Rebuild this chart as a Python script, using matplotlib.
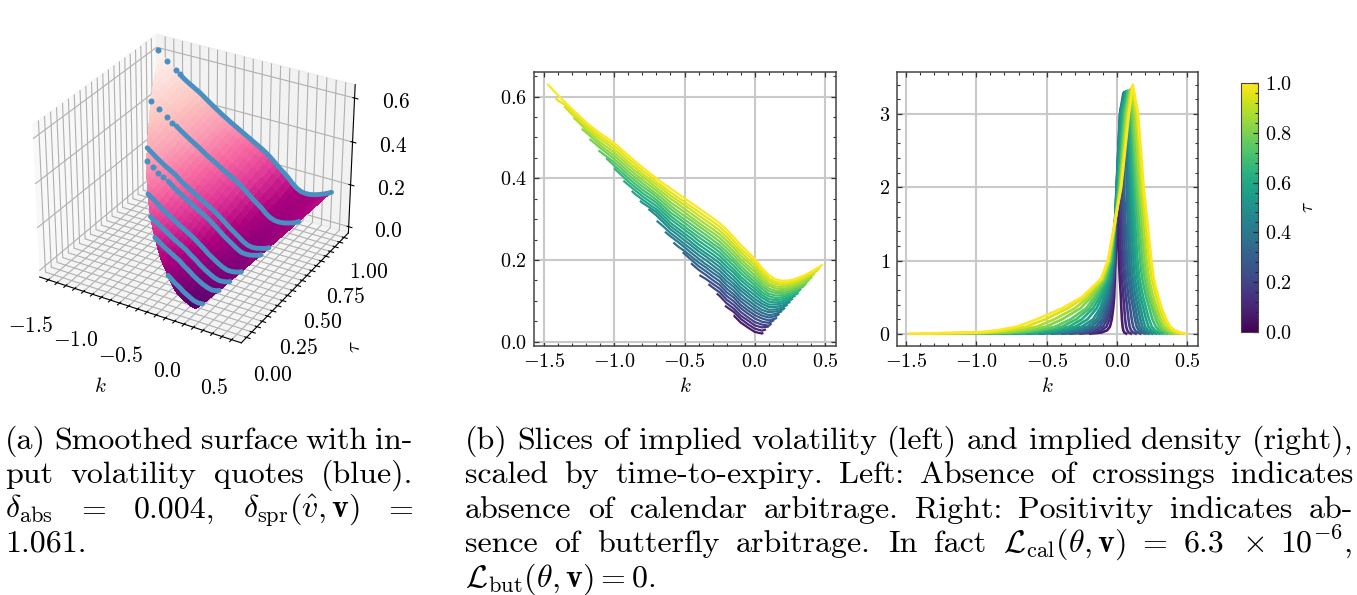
import numpy as np
import matplotlib
matplotlib.use('Agg')
from matplotlib import pyplot as plt
from matplotlib.cm import ScalarMappable
from matplotlib.colors import Normalize
from matplotlib.ticker import MultipleLocator

plt.rcParams['font.family'] = ['cmr10', 'DejaVu Sans']
plt.rcParams['mathtext.fontset'] = 'cm'
plt.rcParams['axes.formatter.use_mathtext'] = True
plt.rcParams['axes.unicode_minus'] = True

W, H = 1357, 595

# implied vol slices, bottom slice first
vol_tau = [0.07, 0.11, 0.15, 0.20, 0.24, 0.28, 0.32, 0.37, 0.41, 0.45, 0.49, 0.53,
           0.58, 0.62, 0.66, 0.70, 0.75, 0.79, 0.83, 0.87, 0.92, 0.96, 1.0]
# where the same slices sit on the tau axis of the surface plot
surface_tau = [0.011, 0.021, 0.034, 0.050, 0.071, 0.095, 0.121, 0.154, 0.187, 0.224, 0.263, 0.306,
               0.352, 0.401, 0.461, 0.515, 0.569, 0.630, 0.690, 0.755, 0.830, 0.900, 0.960]
vol_k_lo = [-0.152, -0.212, -0.271, -0.330, -0.394, -0.454, -0.513, -0.579, -0.639, -0.698, -0.757, -0.817,
            -0.876, -0.935, -1.002, -1.059, -1.113, -1.177, -1.232, -1.291, -1.358, -1.417, -1.476]
vol_v_lo = [0.064, 0.088, 0.118, 0.141, 0.163, 0.192, 0.219, 0.243, 0.269, 0.296, 0.325, 0.345,
            0.369, 0.394, 0.424, 0.449, 0.468, 0.496, 0.521, 0.549, 0.576, 0.596, 0.631]
vol_k_hi = [0.061, 0.080, 0.099, 0.119, 0.138, 0.157, 0.176, 0.195, 0.215, 0.234, 0.253, 0.272,
            0.291, 0.311, 0.330, 0.349, 0.368, 0.387, 0.407, 0.426, 0.445, 0.464, 0.483]
vol_v_hi = [0.022, 0.030, 0.037, 0.045, 0.053, 0.060, 0.068, 0.075, 0.083, 0.091, 0.098, 0.106,
            0.113, 0.121, 0.129, 0.136, 0.144, 0.151, 0.159, 0.167, 0.174, 0.182, 0.189]

# values at each k, from the lowest slice that reaches that k up to the top slice
vol_k = [-1.4, -1.35, -1.3, -1.25, -1.2, -1.15, -1.1, -1.05, -1.0, -0.95, -0.9, -0.85, -0.8, -0.75, -0.7, -0.65,
         -0.6, -0.55, -0.5, -0.45, -0.4, -0.35, -0.3, -0.25, -0.2, -0.15, -0.1,
         -0.05, 0.0, 0.05, 0.1, 0.15, 0.2, 0.25, 0.3, 0.35, 0.4, 0.45]
vol_cols = [
    [.590, .603],
    [.574, .580, .586],
    [.556, .563, .569],
    [.536, .541, .547, .553],
    [.512, .518, .525, .531, .537],
    [.489, .497, .504, .511, .517, .523],
    [.465, .474, .481, .488, .496, .503, .510],
    [.447, .452, .461, .468, .476, .484, .491, .498],
    [.424, .431, .439, .447, .455, .463, .471, .479, .486],
    [.408, .416, .424, .432, .440, .448, .456, .464, .471],
    [.384, .392, .400, .408, .416, .424, .432, .440, .448, .456],
    [.361, .370, .378, .386, .394, .402, .410, .418, .426, .434, .441],
    [.340, .348, .356, .364, .372, .380, .388, .396, .404, .411, .419, .427],
    [.323, .329, .336, .344, .352, .360, .368, .375, .383, .391, .398, .406, .413],
    [.309, .317, .324, .332, .340, .347, .355, .362, .370, .377, .385, .392, .400],
    [.282, .292, .300, .308, .316, .324, .332, .340, .348, .356, .364, .372, .379, .387],
    [.258, .266, .275, .283, .291, .300, .308, .316, .325, .333, .341, .350, .358, .366, .375],
    [.234, .245, .253, .262, .270, .278, .287, .295, .304, .312, .320, .329, .338, .346, .354, .363],
    [.215, .222, .231, .239, .248, .257, .265, .274, .282, .291, .299, .308, .317, .325, .334, .342, .351],
    [.191, .200, .208, .217, .226, .235, .243, .252, .261, .269, .278, .287, .296, .304, .313, .322, .330, .339],
    [.176, .185, .194, .203, .212, .221, .229, .238, .247, .256, .265, .274, .283, .291, .300, .309, .318, .327],
    [.154, .164, .173, .182, .190, .200, .209, .217, .226, .235, .244, .253, .262, .271, .279, .288, .297, .306,
     .315],
    [.133, .142, .151, .160, .169, .178, .187, .196, .205, .214, .223, .232, .240, .249, .258, .267, .276, .285,
     .294, .303],
    [.112, .121, .130, .139, .148, .157, .165, .174, .183, .192, .201, .210, .219, .228, .236, .245, .254, .263,
     .272, .281, .290],
    [.085, .094, .103, .112, .121, .130, .139, .148, .157, .166, .175, .184, .193, .202, .211, .220, .229, .238,
     .247, .256, .265, .274],
    [.064, .073, .081, .090, .099, .108, .116, .125, .134, .142, .151, .160, .169, .177, .186, .195, .203, .212,
     .221, .230, .238, .247, .256],
    [.047, .056, .064, .073, .082, .090, .099, .107, .116, .125, .133, .142, .151, .159, .168, .177, .185, .194,
     .202, .211, .220, .228, .237],
    [.035, .043, .052, .060, .069, .077, .085, .094, .102, .111, .119, .127, .136, .144, .153, .161, .169, .178,
     .186, .195, .203, .212, .220],
    [.024, .032, .040, .048, .057, .065, .073, .081, .089, .097, .105, .114, .122, .130, .138, .146, .154, .162,
     .171, .179, .187, .195, .203],
    [.020, .027, .035, .042, .049, .057, .064, .071, .078, .086, .093, .100, .108, .115, .122, .130, .137, .144,
     .151, .159, .166, .173, .181],
    [.039, .046, .052, .059, .065, .072, .078, .085, .091, .098, .104, .111, .117, .124, .130, .137, .143, .150,
     .156, .163],
    [.057, .063, .068, .074, .079, .085, .091, .096, .102, .107, .113, .119, .124, .130, .135, .141, .146, .152],
    [.079, .084, .089, .094, .099, .104, .109, .114, .119, .124, .129, .134, .139, .144, .149],
    [.097, .101, .106, .110, .115, .119, .124, .128, .132, .137, .141, .146, .150],
    [.117, .121, .126, .130, .134, .138, .142, .147, .151, .155],
    [.137, .141, .145, .150, .154, .158, .162],
    [.156, .160, .164, .167, .171],
    [.176, .181],
]

# input quotes on the surface
quote_rows = [22, 18, 14, 13, 10, 8, 6, 2]
quote_dense_from = [-1.2, -0.97, -1.5, -0.71, -1.5, -1.5, -1.5, -1.5]
quote_sparse_k = [-1.476, -1.369, -1.274, -1.227, -1.232, -1.145, -1.058, -0.993, -0.935, -0.87, -0.807, -0.754]
quote_sparse_v = [0.631, 0.592, 0.560, 0.545, 0.521, 0.495, 0.469, 0.449, 0.394, 0.376, 0.358, 0.345]
quote_sparse_tau = [0.96, 0.96, 0.96, 0.96, 0.69, 0.69, 0.69, 0.69, 0.401, 0.401, 0.401, 0.401]

# implied density slices: k where each slice crosses a density level
dens_tau = [0.07, 0.13, 0.19, 0.25, 0.31, 0.37, 0.43, 0.50, 0.56, 0.62, 0.69, 0.75, 0.81, 0.87, 0.94, 1.0]
dens_levels = [0.005, 0.02, 0.05, 0.1, 0.2, 0.35, 0.5, 0.75, 1.0, 2.0, 3.0]
dens_left = [
    [-.19, -.26, -.33, -.39, -.46, -.55, -.64, -.74, -.83, -.92, -1.02, -1.11, -1.20, -1.29, -1.39, -1.476],
    [-.11, -.16, -.21, -.25, -.30, -.35, -.40, -.46, -.52, -.58, -.66, -.72, -.79, -.85, -.93, -1.0],
    [-.07, -.11, -.15, -.18, -.22, -.26, -.31, -.36, -.41, -.47, -.53, -.58, -.64, -.71, -.78, -.85],
    [-.05, -.075, -.10, -.125, -.15, -.18, -.21, -.25, -.295, -.34, -.39, -.44, -.505, -.57, -.645, -.71],
    [-.037, -.054, -.071, -.088, -.105, -.125, -.146, -.17, -.21, -.25, -.29, -.33, -.39, -.445, -.51, -.57],
    [-.027, -.039, -.051, -.063, -.075, -.089, -.104, -.12, -.145, -.17, -.195, -.22, -.26, -.30, -.35, -.39],
    [-.02, -.029, -.038, -.046, -.055, -.066, -.076, -.09, -.107, -.124, -.143, -.16, -.182, -.203, -.23, -.25],
    [-.015, -.02, -.024, -.029, -.034, -.039, -.044, -.05, -.058, -.067, -.077, -.085, -.093, -.10, -.108, -.115],
    [-.011, -.013, -.015, -.018, -.02, -.023, -.026, -.03, -.034, -.038, -.043, -.047, -.051, -.056, -.06, -.065],
    [.003, .008, .004, .0, -.002, -.003, -.003, -.001, .004, .008, .013, .017, .02, .023, .027, .03],
    [.003, .010, .016, .022, .024, .021, .022, .024, .032, .04, .05, .057, .064, .071, .079, .085],
]
dens_peak_k = [.003, .010, .016, .022, .03, .045, .05, .058, .064, .07, .078, .085, .092, .098, .106, .113]
dens_peak_h = [1.7, 2.1, 2.5, 2.85, 3.1, 3.28, 3.3, 3.3, 3.31, 3.31, 3.32, 3.32, 3.33, 3.34, 3.37, 3.40]
dens_right = [
    [.003, .010, .016, .022, .036, .062, .07, .078, .084, .09, .1, .108, .117, .128, .14, .15],
    [.003, .013, .026, .037, .05, .068, .08, .092, .102, .114, .127, .14, .152, .164, .178, .19],
    [.014, .028, .043, .057, .072, .086, .1, .115, .131, .146, .164, .18, .196, .211, .229, .245],
    [.02, .035, .051, .066, .082, .097, .112, .128, .145, .161, .18, .197, .213, .228, .248, .262],
    [.028, .046, .064, .082, .10, .116, .133, .15, .168, .186, .207, .225, .242, .259, .28, .295],
    [.031, .052, .073, .094, .115, .132, .15, .168, .188, .207, .23, .25, .266, .283, .302, .318],
    [.035, .058, .082, .105, .128, .146, .166, .185, .207, .228, .252, .275, .293, .311, .332, .35],
    [.04, .065, .09, .115, .14, .16, .18, .20, .224, .248, .276, .30, .319, .338, .361, .38],
    [.045, .073, .10, .128, .155, .176, .198, .22, .245, .27, .30, .325, .345, .365, .389, .41],
    [.052, .083, .114, .145, .175, .199, .224, .25, .275, .299, .33, .355, .378, .399, .425, .45],
    [.065, .099, .133, .166, .20, .224, .25, .275, .30, .324, .354, .38, .406, .432, .463, .49],
]

caption_a = ["(a) Smoothed surface with in-",
             "put volatility quotes (blue).",
             r"$\delta_{\mathrm{abs}}$ = 0.004, $\delta_{\mathrm{spr}}(\hat{v},\mathbf{v})$ =",
             "1.061."]
caption_b = ["(b) Slices of implied volatility (left) and implied density (right),",
             "scaled by time-to-expiry. Left: Absence of crossings indicates",
             "absence of calendar arbitrage. Right: Positivity indicates ab-",
             r"sence of butterfly arbitrage. In fact $\mathcal{L}_{\mathrm{cal}}(\theta,\mathbf{v})$ = 6.3 $\times$ $10^{-6}$,",
             r"$\mathcal{L}_{\mathrm{but}}(\theta,\mathbf{v})=0$."]


def px_box(left, top, right, bottom):
    return [left / W, 1 - bottom / H, (right - left) / W, (bottom - top) / H]


def style_axes(ax):
    ax.grid(True, color='#c9c9c9', lw=1.5)
    ax.set_axisbelow(True)
    ax.xaxis.set_major_locator(MultipleLocator(0.5))
    ax.xaxis.set_minor_locator(MultipleLocator(0.1))
    ax.tick_params(which='both', direction='in', top=True, right=True, labelsize=14.5, color='#333333', pad=5)
    ax.tick_params(which='major', length=3.5, width=0.9)
    ax.tick_params(which='minor', length=2, width=0.8)
    ax.set_xlabel('$k$', fontsize=15, labelpad=4)
    for s in ax.spines.values():
        s.set_color('#444444')
        s.set_linewidth(1.1)


def draw_caption(fig, lines, x0, x1, baselines, font_size):
    renderer = fig.canvas.get_renderer()
    for i, line in enumerate(lines):
        # split on spaces outside math so that lines can be justified
        words = line.split(' ')
        items = [fig.text(0, 0, w, fontsize=font_size, va='baseline', ha='left') for w in words]
        widths = [t.get_window_extent(renderer).width for t in items]
        if i < len(lines) - 1 and len(words) > 1:
            gap = (x1 - x0 - sum(widths)) / (len(words) - 1)
        else:
            gap = font_size * 100 / 72 * 0.33
        x = x0
        for t, w in zip(items, widths):
            t.set_position((x / W, 1 - baselines[i] / H))
            x += w + gap


# build the table of slices
n_slices = len(vol_tau)
vol_grid = np.full((n_slices, len(vol_k)), np.nan)
for j, col in enumerate(vol_cols):
    vol_grid[n_slices - len(col):, j] = col
k_grid = np.array(vol_k)

# clamp every row to its own ends, the surface then has clean edges
mesh_k = np.zeros((n_slices, len(vol_k) + 2))
mesh_v = np.zeros_like(mesh_k)
mesh_tau = np.zeros_like(mesh_k)
for s in range(n_slices):
    row_k = np.where(np.isnan(vol_grid[s]), np.where(k_grid < vol_k_lo[s], vol_k_lo[s], vol_k_hi[s]), k_grid)
    row_v = np.where(np.isnan(vol_grid[s]), np.where(k_grid < vol_k_lo[s], vol_v_lo[s], vol_v_hi[s]), vol_grid[s])
    mesh_k[s] = np.r_[vol_k_lo[s], row_k, vol_k_hi[s]]
    mesh_v[s] = np.r_[vol_v_lo[s], row_v, vol_v_hi[s]]
    mesh_tau[s] = surface_tau[s]

fig = plt.figure(figsize=(W / 100, H / 100), dpi=100)
cmap = plt.get_cmap('viridis')
norm = Normalize(0, 1)

# surface
ax3 = fig.add_axes(px_box(12.5, 6.5, 371.5, 365.5), projection='3d')
ax3.computed_zorder = False
ax3.plot_surface(mesh_k, mesh_tau, mesh_v, cmap='RdPu_r', vmin=0, vmax=0.63, linewidth=0,
                 antialiased=False, zorder=1, rstride=1, cstride=1)
for row, start in zip(quote_rows, quote_dense_from):
    keep = mesh_k[row] >= start
    ax3.plot(mesh_k[row][keep], mesh_tau[row][keep], mesh_v[row][keep], color='#4a8fc2', lw=3.5, zorder=2,
             solid_capstyle='round')
ax3.scatter(quote_sparse_k, quote_sparse_tau, quote_sparse_v, color='#4a8fc2', s=11, depthshade=False, zorder=3)
ax3.set_xlim(-1.6, 0.6)
ax3.set_ylim(-0.05, 1.05)
ax3.set_zlim(-0.03, 0.66)
x_ticks = np.arange(-15, 6) / 10
ax3.set_xticks(x_ticks)
ax3.set_xticklabels([f'${v:.1f}$' if i % 5 == 0 else '' for i, v in enumerate(x_ticks)])
y_ticks = np.arange(0, 21) / 20
ax3.set_yticks(y_ticks)
ax3.set_yticklabels([f'${v:.2f}$' if i % 5 == 0 else '' for i, v in enumerate(y_ticks)])
ax3.set_zticks([0.0, 0.2, 0.4, 0.6])
ax3.set_zticklabels(['$0.0$', '$0.2$', '$0.4$', '$0.6$'])
ax3.tick_params(axis='both', labelsize=15.5)
ax3.tick_params(axis='x', pad=11)
ax3.tick_params(axis='y', pad=9)
ax3.tick_params(axis='z', pad=10)
fig.text(100 / W, 1 - 387 / H, '$k$', fontsize=15, ha='center', va='center')
fig.text(355 / W, 1 - 347 / H, r'$\tau$', fontsize=15, ha='center', va='center', rotation=90)

# left panel, implied vol
ax1 = fig.add_axes(px_box(534, 72, 836, 346))
for s in range(n_slices):
    keep = ~np.isnan(vol_grid[s])
    ax1.plot(np.r_[vol_k_lo[s], k_grid[keep], vol_k_hi[s]], np.r_[vol_v_lo[s], vol_grid[s][keep], vol_v_hi[s]],
             color=cmap(norm(vol_tau[s])), lw=1.6, solid_capstyle='butt')
ax1.set_xlim(-1.571, 0.578)
ax1.set_ylim(-0.0105, 0.66)
ax1.yaxis.set_major_locator(MultipleLocator(0.2))
ax1.yaxis.set_minor_locator(MultipleLocator(0.05))
style_axes(ax1)

# right panel, implied density
ax2 = fig.add_axes(px_box(897, 72, 1198, 346))
left_k = np.array(dens_left)
right_k = np.array(dens_right)
for i in range(len(dens_tau)):
    ks = np.r_[left_k[:, i], dens_peak_k[i], right_k[:, i]]
    ys = np.minimum(np.r_[dens_levels, dens_peak_h[i], dens_levels[::-1]], dens_peak_h[i])
    ax2.plot(ks, ys, color=cmap(norm(dens_tau[i])), lw=1.9)
ax2.set_xlim(-1.564, 0.576)
ax2.set_ylim(-0.164, 3.573)
ax2.yaxis.set_major_locator(MultipleLocator(1))
ax2.yaxis.set_minor_locator(MultipleLocator(0.2))
style_axes(ax2)

# colourbar
cax = fig.add_axes(px_box(1241, 83, 1258, 332))
cbar = fig.colorbar(ScalarMappable(norm=norm, cmap=cmap), cax=cax)
cbar.set_ticks([0.0, 0.2, 0.4, 0.6, 0.8, 1.0])
cax.yaxis.set_minor_locator(MultipleLocator(0.04))
cax.tick_params(which='both', direction='in', labelsize=14.5, color='#222222', pad=5)
cax.tick_params(which='major', length=3.5, width=0.9)
cax.tick_params(which='minor', length=2, width=0.8)
cbar.outline.set_edgecolor('#444444')
cbar.set_label(r'$\tau$', fontsize=14, labelpad=5)

fig.canvas.draw()
draw_caption(fig, caption_a, 5, 413, [449, 483, 518, 552], 23)
draw_caption(fig, caption_b, 465, 1353, [449, 483, 518, 552, 587], 23)

fig.savefig('out.png', dpi=100)
